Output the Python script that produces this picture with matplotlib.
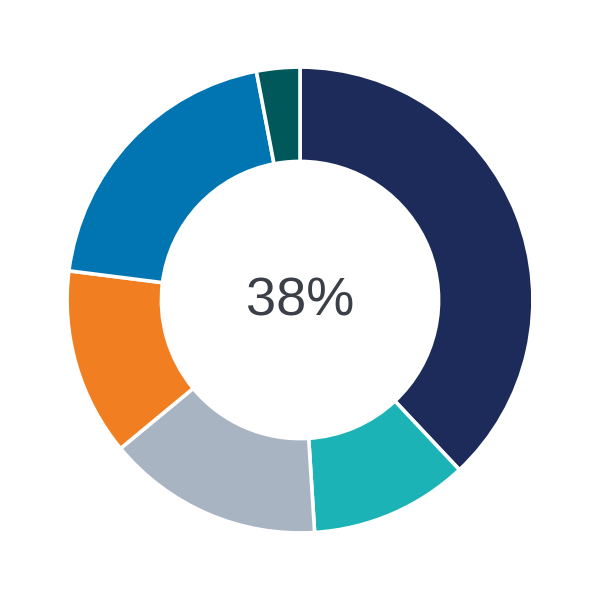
import matplotlib
matplotlib.use('Agg')
import matplotlib.pyplot as plt

# share of each segment, clockwise from 12 o'clock
values = [38, 11, 15, 13, 20, 3]
colors = ['#1c2b5a', '#1bb3b6', '#a9b4c2', '#f27e22', '#0075b1', '#01585b']
center_label = '38%'

fig = plt.figure(figsize=(6, 6), dpi=100)
ax = fig.add_axes([0, 0, 1, 1])

ax.pie(values, colors=colors, startangle=90, counterclock=False,
       radius=1.0,
       wedgeprops=dict(width=0.405, edgecolor='white', linewidth=2.6))

ax.text(0, -0.005, center_label, ha='center', va='center', fontsize=39,
        color='#3b3f48', family=['Liberation Sans', 'DejaVu Sans'])

ax.set_xlim(-1.288, 1.288)
ax.set_ylim(-1.288, 1.288)
ax.set_aspect('equal')
ax.axis('off')

fig.savefig('out.png', dpi=100, facecolor='white')
